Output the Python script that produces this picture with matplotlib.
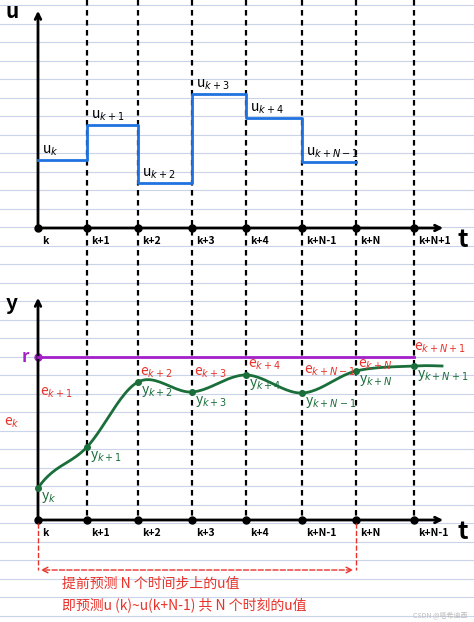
import numpy as np
import matplotlib.pyplot as plt

plt.rcParams['font.family'] = ['Noto Sans CJK SC', 'DejaVu Sans']

# time step columns (pixel x) and labels
cols = [38, 87, 138, 192, 246, 302, 356, 414]
tlabels = ["k", "k+1", "k+2", "k+3", "k+4", "k+N-1", "k+N", "k+N+1"]
tlabels_bottom = ["k", "k+1", "k+2", "k+3", "k+4", "k+N-1", "k+N", "k+N-1"]
# control input levels (top panel), one per interval
u_vals = [160, 125, 183, 94, 118, 162]
u_labels = ["u$_k$", "u$_{k+1}$", "u$_{k+2}$", "u$_{k+3}$", "u$_{k+4}$", "u$_{k+N-1}$"]
# predicted outputs (bottom panel)
y_vals = [488, 447, 382, 392, 375, 393, 371, 366]
y_labels = ["y$_k$", "y$_{k+1}$", "y$_{k+2}$", "y$_{k+3}$", "y$_{k+4}$", "y$_{k+N-1}$", "y$_{k+N}$", "y$_{k+N+1}$"]
e_labels = ["e$_k$", "e$_{k+1}$", "e$_{k+2}$", "e$_{k+3}$", "e$_{k+4}$", "e$_{k+N-1}$", "e$_{k+N}$", "e$_{k+N+1}$"]
r_level = 357

fig = plt.figure(figsize=(4.74, 6.22), dpi=100)
ax = fig.add_axes([0, 0, 1, 1])
ax.set_xlim(0, 474)
ax.set_ylim(622, 0)
ax.axis('off')

for yy in np.arange(5, 622, 18.5):
    ax.axhline(yy, color='#c9d3ea', lw=0.8, zorder=0)

for x in cols[1:]:
    ax.plot([x, x], [0, 520], color='black', ls=(0, (2.5, 2)), lw=1.6, zorder=1)

green = '#1a6e3a'; red = '#e8322a'; blue = '#1f72e0'; purple = '#a21fc9'
fs = 10

# top panel
ax.annotate('', xy=(38, 8), xytext=(38, 228), arrowprops=dict(arrowstyle='->', lw=2, color='black'))
ax.annotate('', xy=(446, 228), xytext=(38, 228), arrowprops=dict(arrowstyle='->', lw=2, color='black'))
ax.text(6, 18, 'u', fontsize=15, fontweight='bold')
ax.text(458, 247, 't', fontsize=18, fontweight='bold')
sx, sy = [], []
for i, u in enumerate(u_vals):
    sx += [cols[i], cols[i + 1]]
    sy += [u, u]
ax.plot(sx, sy, color=blue, lw=2, zorder=3)
for i, (u, lab) in enumerate(zip(u_vals, u_labels)):
    ax.text(cols[i] + 4, u - 2, lab, fontsize=fs, va='bottom')
for x, lab in zip(cols, tlabels):
    ax.plot(x, 228, 'o', color='black', ms=5)
    ax.text(x + 4, 236, lab, fontsize=7.5, fontweight='bold', va='top')

# bottom panel
ax.annotate('', xy=(38, 295), xytext=(38, 520), arrowprops=dict(arrowstyle='->', lw=2, color='black'))
ax.annotate('', xy=(446, 520), xytext=(38, 520), arrowprops=dict(arrowstyle='->', lw=2, color='black'))
ax.text(6, 310, 'y', fontsize=15, fontweight='bold')
ax.text(458, 539, 't', fontsize=18, fontweight='bold')
ax.plot([38, 414], [r_level, r_level], color=purple, lw=2, zorder=3)
ax.plot(38, r_level, 'o', color=purple, ms=5)
ax.text(22, r_level, 'r', color=purple, fontsize=12, fontweight='bold', va='center')

# smooth curve through predicted outputs (Catmull-Rom)
px = np.array(cols + [442], float)
py = np.array(y_vals + [366], float)
P = np.column_stack([px, py])
P = np.vstack([2 * P[0] - P[1] + [0, 60], P, P[-1]])
curve = []
for i in range(1, len(P) - 2):
    p0, p1, p2, p3 = P[i - 1], P[i], P[i + 1], P[i + 2]
    for t in np.linspace(0, 1, 25):
        curve.append(0.5 * ((2 * p1) + (-p0 + p2) * t + (2 * p0 - 5 * p1 + 4 * p2 - p3) * t ** 2
                            + (-p0 + 3 * p1 - 3 * p2 + p3) * t ** 3))
curve = np.array(curve)
ax.plot(curve[:, 0], curve[:, 1], color=green, lw=2, zorder=3)
ax.plot(cols, y_vals, 'o', color=green, ms=4, zorder=4)
for x, yv, lab in zip(cols, y_vals, y_labels):
    ax.text(x + 3, yv + 2, lab, color=green, fontsize=fs, va='top')
e_pos = [(4, 423), (40, 393), (140, 380), (194, 380), (248, 372), (304, 378), (358, 372), (414, 355)]
for (ex, ey), lab in zip(e_pos, e_labels):
    ax.text(ex, ey, lab, color=red, fontsize=fs, va='bottom' if ex > 100 else 'center')
for x, lab in zip(cols, tlabels_bottom):
    ax.plot(x, 520, 'o', color='black', ms=5)
    ax.text(x + 4, 528, lab, fontsize=7.5, fontweight='bold', va='top')

# prediction horizon bracket
ax.plot([38, 38], [523, 570], color=red, ls='--', lw=1)
ax.plot([356, 356], [523, 570], color=red, ls='--', lw=1)
ax.annotate('', xy=(38, 570), xytext=(356, 570),
            arrowprops=dict(arrowstyle='<->', ls='--', color=red, lw=1))
ax.text(62, 584, '提前预测 N 个时间步上的u值', color=red, fontsize=10, va='center')
ax.text(62, 606, '即预测u (k)~u(k+N-1) 共 N 个时刻的u值', color=red, fontsize=10, va='center')
ax.text(468, 617, 'CSDN @嗒希迪西', color='#bbbbbb', fontsize=5, ha='right')

fig.savefig('out.png', dpi=100)
